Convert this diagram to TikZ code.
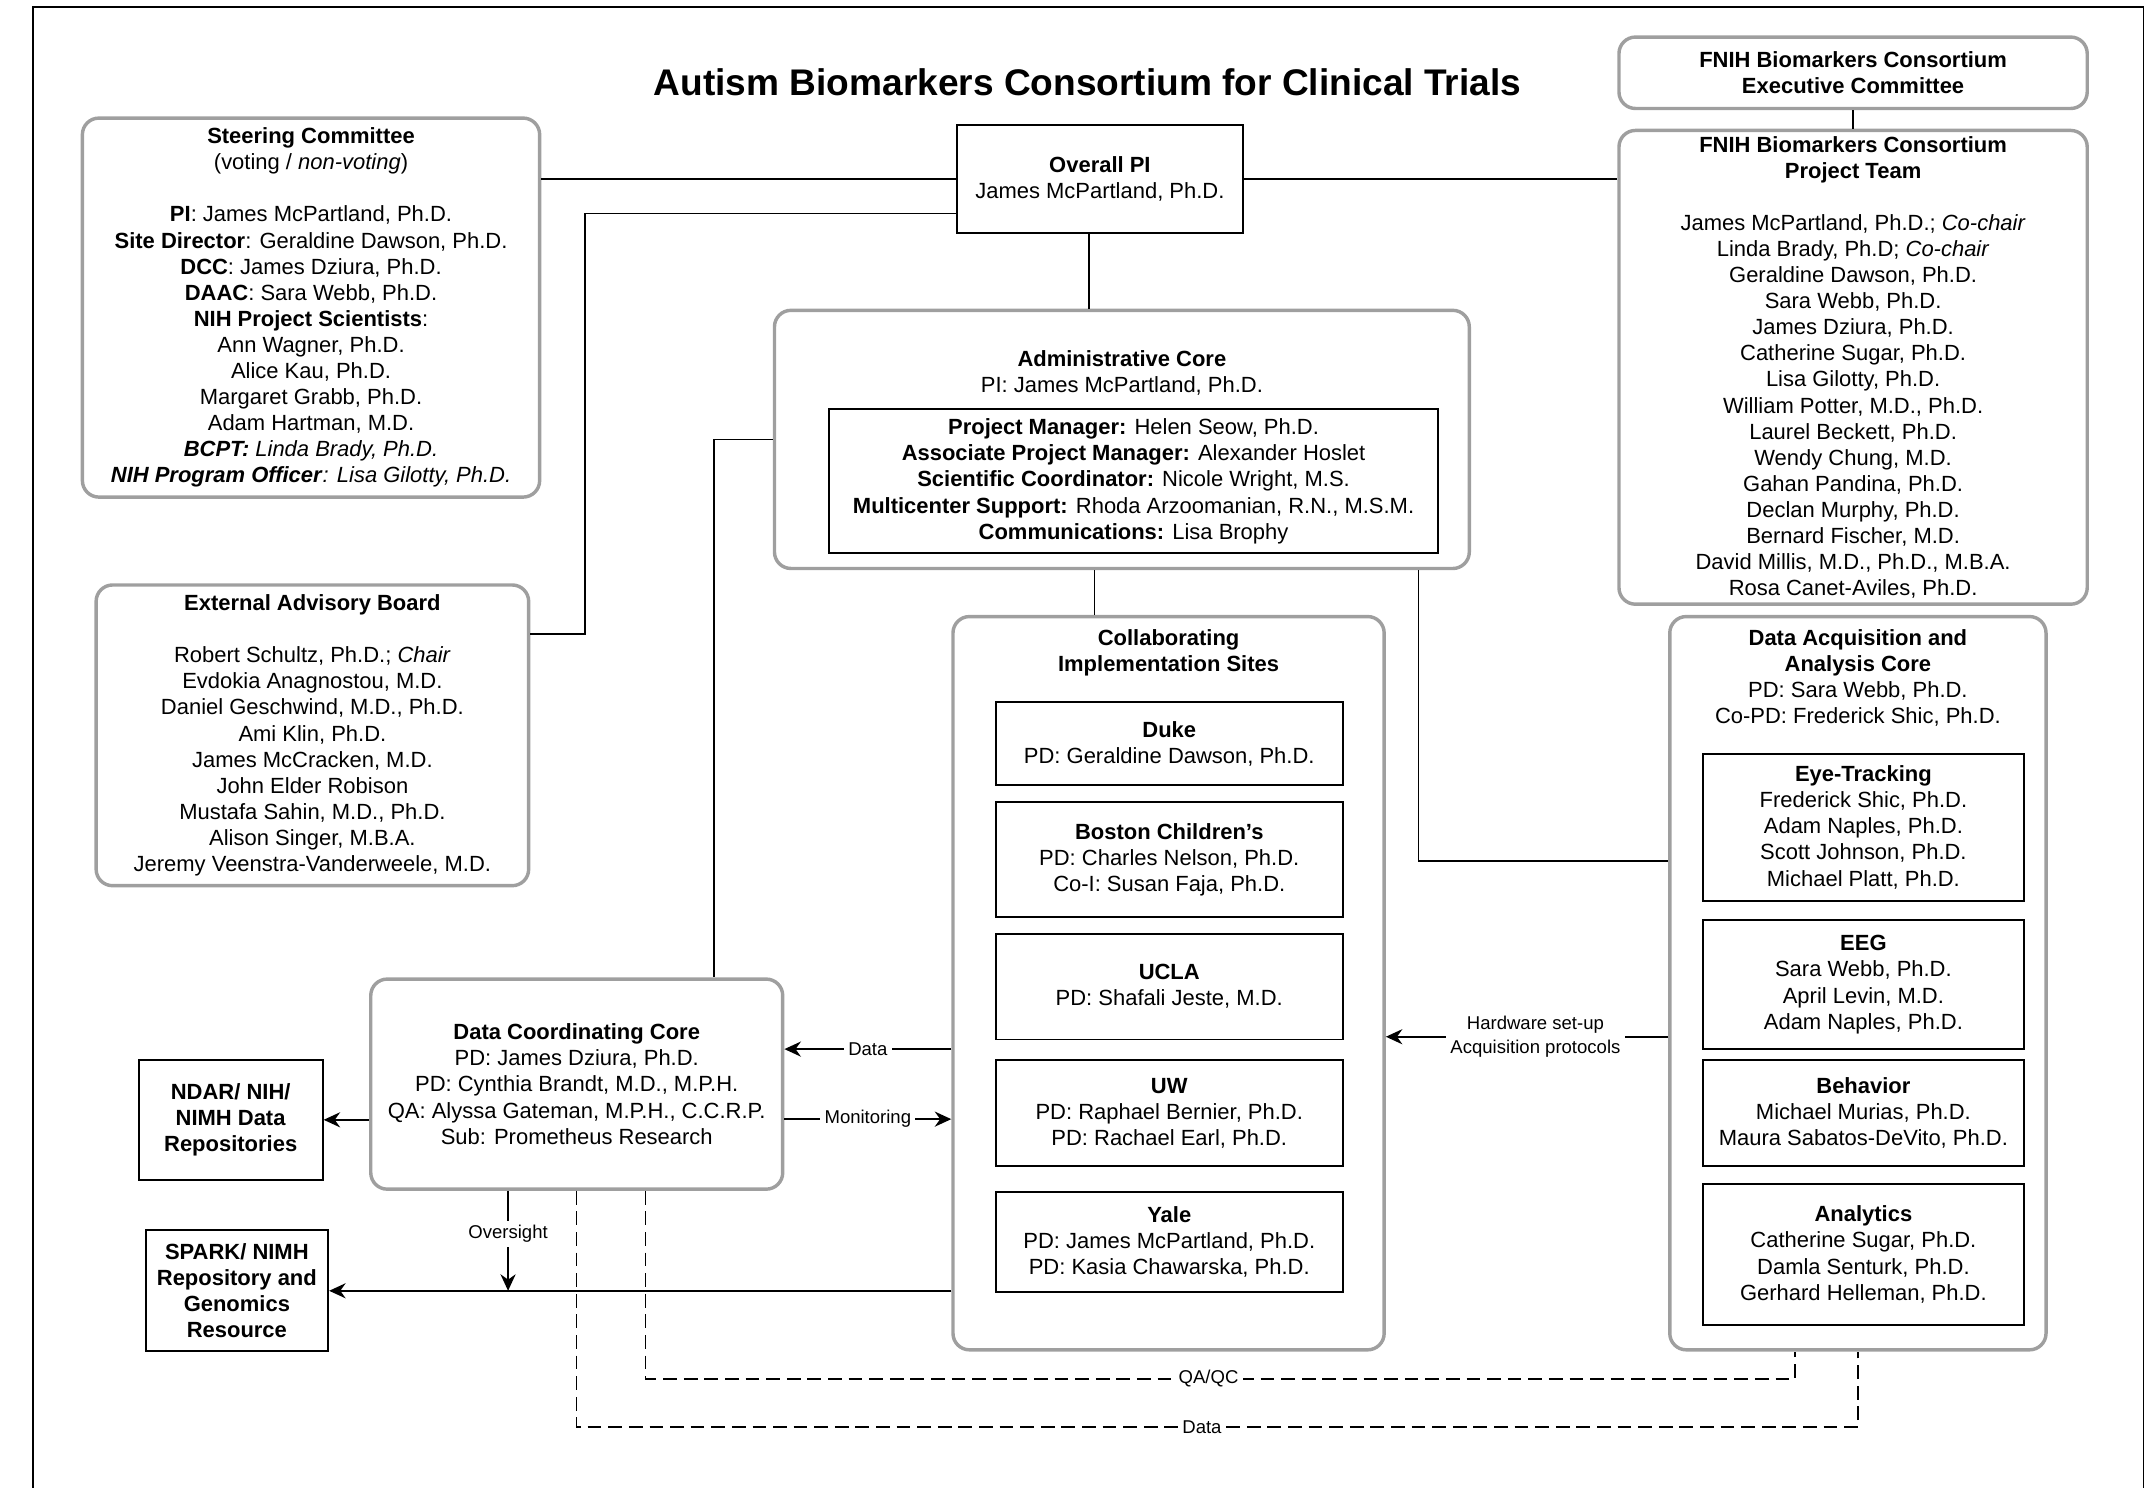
\documentclass[tikz,border=0pt]{standalone}
\usepackage{fontspec}
\setmainfont{Liberation Sans}
\usepackage{tikz}
\usetikzlibrary{arrows.meta}

\begin{document}
\begin{tikzpicture}[x=1pt,y=-1pt,
  every node/.style={font=\fontsize{16}{19}\selectfont,align=center,inner sep=0pt},
  grpbox/.style={draw=gray!75,line width=2.5pt,rounded corners=12pt},
  blkbox/.style={draw=black,line width=1.4pt},
  conn/.style={line width=1.3pt},
  arr/.style={conn,-{Stealth[length=12pt,width=11pt]}},
  dashln/.style={line width=1.1pt,dash pattern=on 10pt off 5pt},
  lbl/.style={font=\fontsize{13.5}{17}\selectfont,fill=white,inner sep=3pt}]
\useasboundingbox (0,0) rectangle (1565,1083.6);
% frame, open at the bottom
\draw[line width=1pt] (24,1083.6) -- (24,5) -- (1561,5) -- (1561,1083.6);

% title
\node[font=\bfseries\fontsize{27}{32}\selectfont] (title) at (792,60) {Autism Biomarkers Consortium for Clinical Trials};

% Steering committee and advisory board
\node[grpbox,minimum width=333,minimum height=276] (sc) at (226.5,224) {\textbf{Steering Committee}\\(voting / \textit{non-voting})\\[19pt]
  \textbf{PI}: James McPartland, Ph.D.\\
  \textbf{Site Director}: Geraldine Dawson, Ph.D.\\
  \textbf{DCC}: James Dziura, Ph.D.\\
  \textbf{DAAC}: Sara Webb, Ph.D.\\
  \textbf{NIH Project Scientists}:\\
  Ann Wagner, Ph.D.\\ Alice Kau, Ph.D.\\ Margaret Grabb, Ph.D.\\ Adam Hartman, M.D.\\
  \textbf{\textit{BCPT:}} \textit{Linda Brady, Ph.D.}\\
  \textbf{\textit{NIH Program Officer}}\textit{: Lisa Gilotty, Ph.D.}};
\node[grpbox,minimum width=315,minimum height=219] (eab) at (227.5,535.5) {\textbf{External Advisory Board}\\[19pt]
  Robert Schultz, Ph.D.; \textit{Chair}\\ Evdokia Anagnostou, M.D.\\ Daniel Geschwind, M.D., Ph.D.\\
  Ami Klin, Ph.D.\\ James McCracken, M.D.\\ John Elder Robison\\ Mustafa Sahin, M.D., Ph.D.\\
  Alison Singer, M.B.A.\\ Jeremy Veenstra-Vanderweele, M.D.};

% Overall PI
\node[blkbox,minimum width=208,minimum height=79] (opi) at (801,130.5) {\textbf{Overall PI}\\James McPartland, Ph.D.};

% FNIH
\node[grpbox,minimum width=341,minimum height=52] (exec) at (1349.5,53) {\textbf{FNIH Biomarkers Consortium}\\\textbf{Executive Committee}};
\node[grpbox,minimum width=341,minimum height=345] (pt) at (1349.5,267.5) {\textbf{FNIH Biomarkers Consortium}\\\textbf{Project Team}\\[19pt]
  James McPartland, Ph.D.; \textit{Co-chair}\\ Linda Brady, Ph.D; \textit{Co-chair}\\ Geraldine Dawson, Ph.D.\\
  Sara Webb, Ph.D.\\ James Dziura, Ph.D.\\ Catherine Sugar, Ph.D.\\ Lisa Gilotty, Ph.D.\\
  William Potter, M.D., Ph.D.\\ Laurel Beckett, Ph.D.\\ Wendy Chung, M.D.\\ Gahan Pandina, Ph.D.\\
  Declan Murphy, Ph.D.\\ Bernard Fischer, M.D.\\ David Millis, M.D., Ph.D., M.B.A.\\ Rosa Canet-Aviles, Ph.D.};

% Administrative core
\node[grpbox,minimum width=506,minimum height=188] (adm) at (817,320) {};
\node[anchor=north] (admt) at (817,255) {\textbf{Administrative Core}\\PI: James McPartland, Ph.D.};
\node[blkbox,minimum width=443,minimum height=105] (admstaff) at (825.5,350.5) {\textbf{Project Manager:} Helen Seow, Ph.D.\\
  \textbf{Associate Project Manager:} Alexander Hoslet\\
  \textbf{Scientific Coordinator:} Nicole Wright, M.S.\\
  \textbf{Multicenter Support:} Rhoda Arzoomanian, R.N., M.S.M.\\
  \textbf{Communications:} Lisa Brophy};

% Collaborating sites
\node[grpbox,minimum width=314,minimum height=534] (cis) at (851,716) {};
\node[anchor=north] (cist) at (851,458) {\textbf{Collaborating}\\\textbf{Implementation Sites}};
\node[blkbox,minimum width=253,minimum height=61] (duke) at (851.5,541.5) {\textbf{Duke}\\PD: Geraldine Dawson, Ph.D.};
\node[blkbox,minimum width=253,minimum height=84] (bch) at (851.5,626) {\textbf{Boston Children’s}\\PD: Charles Nelson, Ph.D.\\Co-I: Susan Faja, Ph.D.};
\node[blkbox,minimum width=253,minimum height=77] (ucla) at (851.5,718.5) {\textbf{UCLA}\\PD: Shafali Jeste, M.D.};
\node[blkbox,minimum width=253,minimum height=77] (uw) at (851.5,810.5) {\textbf{UW}\\PD: Raphael Bernier, Ph.D.\\PD: Rachael Earl, Ph.D.};
\node[blkbox,minimum width=253,minimum height=73] (yale) at (851.5,904.5) {\textbf{Yale}\\PD: James McPartland, Ph.D.\\PD: Kasia Chawarska, Ph.D.};

% Data acquisition and analysis core
\node[grpbox,minimum width=274,minimum height=534] (daac) at (1353,716) {};
\node[anchor=north] (daact) at (1353,458) {\textbf{Data Acquisition and}\\\textbf{Analysis Core}\\PD: Sara Webb, Ph.D.\\Co-PD: Frederick Shic, Ph.D.};
\node[blkbox,minimum width=234,minimum height=107] (eye) at (1357,602.5) {\textbf{Eye-Tracking}\\Frederick Shic, Ph.D.\\Adam Naples, Ph.D.\\Scott Johnson, Ph.D.\\Michael Platt, Ph.D.};
\node[blkbox,minimum width=234,minimum height=94] (eeg) at (1357,717) {\textbf{EEG}\\Sara Webb, Ph.D.\\April Levin, M.D.\\Adam Naples, Ph.D.};
\node[blkbox,minimum width=234,minimum height=77] (beh) at (1357,810.5) {\textbf{Behavior}\\Michael Murias, Ph.D.\\Maura Sabatos-DeVito, Ph.D.};
\node[blkbox,minimum width=234,minimum height=103] (anl) at (1357,913.5) {\textbf{Analytics}\\Catherine Sugar, Ph.D.\\Damla Senturk, Ph.D.\\Gerhard Helleman, Ph.D.};

% Data coordinating core and repositories
\node[grpbox,minimum width=300,minimum height=153] (dcc) at (420,789.5) {\textbf{Data Coordinating Core}\\PD: James Dziura, Ph.D.\\PD: Cynthia Brandt, M.D., M.P.H.\\QA: Alyssa Gateman, M.P.H., C.C.R.P.\\Sub: Prometheus Research};
\node[blkbox,minimum width=134,minimum height=87] (ndar) at (168,815.5) {\textbf{NDAR/ NIH/}\\\textbf{NIMH Data}\\\textbf{Repositories}};
\node[blkbox,minimum width=133,minimum height=88] (spark) at (172.5,940) {\textbf{SPARK/ NIMH}\\\textbf{Repository and}\\\textbf{Genomics}\\\textbf{Resource}};

% reporting lines
\draw[conn] (opi.west) -- (opi.west -| sc.east);
\draw[conn] (opi.east) -- (opi.east -| pt.west);
\draw[conn] (exec.south) -- (pt.north);
\draw[conn] ([yshift=-25pt]opi.west) -| ([xshift=40pt,yshift=74pt]eab.east) -- ([yshift=74pt]eab.east);
\draw[conn] ([xshift=-8pt]opi.south) -- ([xshift=-8pt]opi.south |- adm.north);
\draw[conn] (adm.west) -| ([xshift=100pt]dcc.north);
\draw[conn] ([xshift=-20pt]adm.south) -- ([xshift=-20pt]adm.south |- cis.north);
\draw[conn] ([xshift=216pt]adm.south) |- ([yshift=89pt]daac.west);

% data flow
\draw[arr] ([yshift=-48pt]cis.west) -- ([yshift=-48pt]cis.west -| dcc.east) node[lbl,midway] {Data};
\draw[arr] ([yshift=-25.5pt]dcc.east) -- ([yshift=-25.5pt]dcc.east -| cis.west) node[lbl,midway] {Monitoring};
\draw[arr] ([yshift=-39pt]daac.west) -- ([yshift=-39pt]daac.west -| cis.east) node[lbl,pos=0.47] {Hardware set-up\\Acquisition protocols};
\draw[arr] (dcc.west |- ndar.east) -- (ndar.east);
\draw[arr] (cis.west |- spark.east) -- (spark.east);
\draw[arr] ([xshift=-50pt]dcc.south) -- ([xshift=-50pt]dcc.south |- spark.east) node[lbl,pos=0.43] {Oversight};
\draw[dashln] ([xshift=50pt]dcc.south) -- ++(0,137) -| ([xshift=-46pt]daac.south) node[lbl,pos=0.245] {QA/QC};
\draw[dashln] (dcc.south) -- ++(0,172) -| (daac.south) node[lbl,pos=0.244] {Data};
\end{tikzpicture}
\end{document}
